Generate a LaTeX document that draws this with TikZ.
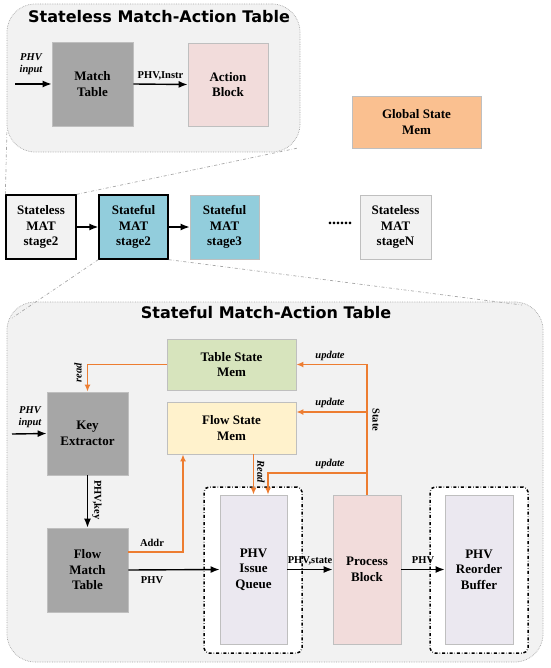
\documentclass[tikz,border=0pt]{standalone}
\usepackage{fontspec}
\setmainfont{Liberation Serif}
\newfontfamily\titlefont{DejaVu Sans}
\usetikzlibrary{arrows.meta}

\definecolor{framefill}{HTML}{F2F2F2}
\definecolor{frameline}{HTML}{A6A6A6}
\definecolor{boxline}{HTML}{BFBFBF}
\definecolor{matchgray}{HTML}{A6A6A6}
\definecolor{actionpink}{HTML}{F2DCDB}
\definecolor{globalorange}{HTML}{FAC090}
\definecolor{stageblue}{HTML}{92CDDC}
\definecolor{tablegreen}{HTML}{D7E4BD}
\definecolor{flowyellow}{HTML}{FFF2CC}
\definecolor{queuelilac}{HTML}{EBE8F0}
\definecolor{stateorange}{HTML}{ED7D31}

\tikzset{
    box/.style = {draw = boxline, line width = 0.8pt, inner sep = 0pt, align = center,
                  font = \fontsize{13}{15.5}\selectfont\bfseries},
    stagebox/.style = {box, draw = black, line width = 1.3pt},
    matframe/.style = {draw = frameline, densely dotted, line width = 0.7pt, fill = framefill,
                       rounded corners = 28pt, inner sep = 0pt},
    ringframe/.style = {draw, dash dot, line width = 1.5pt, rounded corners = 5pt, fill = white,
                        inner sep = 0pt},
    frametitle/.style = {font = \titlefont\fontsize{16}{18}\selectfont\bfseries},
    lab/.style = {inner sep = 1pt, font = \fontsize{10.5}{12}\selectfont\bfseries},
    ilab/.style = {inner sep = 1pt, align = center, font = \fontsize{10.5}{12}\selectfont\bfseries\itshape},
    flow/.style = {-{Latex[length = 9pt, width = 7pt]}, line width = 1.4pt},
    stateflow/.style = {-{Latex[length = 7pt, width = 6pt]}, line width = 1.4pt, stateorange},
    zoomline/.style = {frameline, dash dot, line width = 0.7pt}
}

\begin{document}
\begin{tikzpicture}[x = 1pt, y = -1pt]
    \useasboundingbox (0, 0) rectangle (550, 668);

    \node[matframe, minimum width = 293, minimum height = 148] (slframe) at (153.5, 78) {};
    \node[frametitle] (sltitle) at (159, 17) {Stateless Match-Action Table};
    \node[box, fill = matchgray, minimum width = 81, minimum height = 84] (match) at (92.5, 84) {Match\\Table};
    \node[box, fill = actionpink, minimum width = 80, minimum height = 83] (action) at (228, 84.5) {Action\\Block};
    \coordinate (slin) at (15, 84);
    \draw[flow] (slin) -- (match.west);
    \node[ilab] (slinlab) at (31, 64) {PHV\\input};
    \draw[flow] (match.east) -- (action.west) node[lab, midway, above = 2pt] (instrlab) {PHV,Instr};

    \node[box, fill = globalorange, minimum width = 129, minimum height = 52] (global) at (416.5, 122) {Global State\\Mem};

    \node[stagebox, fill = framefill, minimum width = 70, minimum height = 64] (sl2) at (41, 227) {Stateless\\MAT\\stage2};
    \node[stagebox, fill = stageblue, minimum width = 69, minimum height = 64] (sf2) at (133.5, 227) {Stateful\\MAT\\stage2};
    \node[box, fill = stageblue, minimum width = 69, minimum height = 64] (sf3) at (224.5, 227) {Stateful\\MAT\\stage3};
    \node[box, fill = framefill, minimum width = 71, minimum height = 64] (slN) at (395.5, 227) {Stateless\\MAT\\stageN};
    \node[inner sep = 0pt, font = \fontsize{16}{18}\selectfont\bfseries] (dots) at (340, 223) {......};
    \draw[flow] (sl2) -- (sf2);
    \draw[flow] (sf2) -- (sf3);

    \coordinate (zl1) at (7, 128);
    \coordinate (zl2) at (298, 148);
    \draw[zoomline] (sl2.north west) -- (zl1);
    \draw[zoomline] (sl2.north east) -- (zl2);

    \node[matframe, minimum width = 536, minimum height = 360] (sfframe) at (275, 482) {};
    \node[frametitle] (sftitle) at (266, 313) {Stateful Match-Action Table};
    \coordinate (zl3) at (12, 318);
    \coordinate (zl4) at (522, 305);
    \draw[zoomline] (sf2.south west) -- (zl3);
    \draw[zoomline] (sf2.south east) -- (zl4);

    \node[box, fill = tablegreen, minimum width = 129, minimum height = 51] (tsm) at (231.5, 364.5) {Table State\\Mem};
    \node[box, fill = flowyellow, minimum width = 129, minimum height = 52] (fsm) at (231.5, 428) {Flow State\\Mem};
    \node[box, fill = matchgray, minimum width = 81, minimum height = 83] (key) at (87.5, 433.5) {Key\\Extractor};
    \node[box, fill = matchgray, minimum width = 81, minimum height = 84] (fmt) at (87.5, 570) {Flow\\Match\\Table};

    \node[ringframe, minimum width = 98, minimum height = 166] (queueframe) at (253, 570) {};
    \node[ringframe, minimum width = 98, minimum height = 166] (reorderframe) at (479, 570) {};
    \node[box, fill = queuelilac, minimum width = 67, minimum height = 149] (queue) at (253.5, 569.5) {PHV\\Issue\\Queue};
    \node[box, fill = actionpink, minimum width = 68, minimum height = 149] (proc) at (367, 569.5) {Process\\Block};
    \node[box, fill = queuelilac, minimum width = 68, minimum height = 149] (reorder) at (479, 569.5) {PHV\\Reorder\\Buffer};

    \coordinate (sfin) at (12, 434);
    \draw[flow] (sfin) -- (key.west);
    \node[ilab] (sfinlab) at (30, 417) {PHV\\input};
    \draw[flow] (key.south) -- (fmt.north);
    \node[lab, rotate = -90] (keylab) at (97, 500) {PHV,key};
    \draw[flow] (fmt.east) -- (queue.west);
    \node[lab] (phvlab1) at (152, 580) {PHV};
    \draw[flow] (queue.east) -- (proc.west);
    \node[lab] (statelab) at (310, 561) {PHV,state};
    \draw[flow] (proc.east) -- (reorder.west);
    \node[lab] (phvlab2) at (423, 560) {PHV};

    \draw[stateflow] (tsm.west) -| (key.north);
    \node[ilab, rotate = 90] (readlab1) at (78, 373) {read};
    \coordinate (addr) at (183, 552);
    \draw[stateflow] ([yshift = 18pt]fmt.east) -| (fsm.south -| addr);
    \node[lab] (addrlab) at (152, 543) {Addr};
    \draw[stateflow] (fsm.south -| queue.north) -- (queue.north);
    \node[ilab, rotate = -90] (readlab2) at (261, 472) {Read};

    \coordinate (updq) at (268, 473);
    \draw[stateflow] (proc.north) |- (tsm.east);
    \draw[stateflow] (proc.north) |- ([yshift = 16pt]fsm.east);
    \draw[stateflow] (proc.north) |- (updq) -- (updq |- queue.north);
    \node[ilab] (updlab1) at (330, 356) {update};
    \node[ilab] (updlab2) at (330, 403) {update};
    \node[ilab] (updlab3) at (330, 464) {update};
    \node[lab, rotate = -90] (statevlab) at (376, 420) {State};
\end{tikzpicture}
\end{document}
